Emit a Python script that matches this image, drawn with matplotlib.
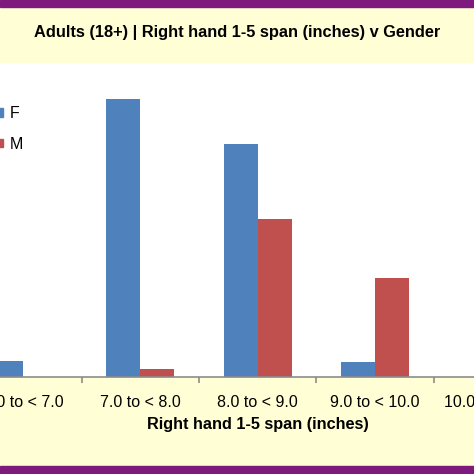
import numpy as np
import matplotlib.pyplot as plt
from matplotlib.patches import Rectangle, Patch

plt.rcParams['font.family'] = ['Liberation Sans', 'DejaVu Sans']

# span bins and share of each gender (%)
categories = ['6.0 to < 7.0', '7.0 to < 8.0', '8.0 to < 9.0', '9.0 to < 10.0', '10.0 to < 11.0']
female = [3.0, 51.3, 43.0, 2.8, 0.0]
male = [0.0, 1.5, 29.2, 18.3, 51.0]

BLUE = '#4F81BD'
RED = '#C0504D'
YELLOW = '#FFFED4'
PURPLE = '#7E1A7E'

W, H = 474, 474
fig = plt.figure(figsize=(W / 100, H / 100), dpi=100, facecolor=YELLOW)

# purple bands top and bottom
fig.add_artist(Rectangle((0, 1 - 7 / H), 1, 7 / H, transform=fig.transFigure,
                         color=PURPLE, zorder=0))
fig.add_artist(Rectangle((0, 0), 1, 8 / H, transform=fig.transFigure,
                         color=PURPLE, zorder=0))

# axes wider than the figure so the outer bins are cut off like the reference
step = 117.3
left_px = 23 - step / 2
ax = fig.add_axes([left_px / W, (H - 377) / H, 5 * step / W, 314 / H])
ax.set_facecolor('white')

x = np.arange(len(categories))
bw = 0.29
ax.bar(x - bw / 2, female, bw, color=BLUE, label='F')
ax.bar(x + bw / 2, male, bw, color=RED, label='M')

ax.set_xlim(-0.5, len(categories) - 0.5)
ax.set_ylim(0, 58)
ax.set_yticks([])
for s in ['top', 'right', 'left']:
    ax.spines[s].set_visible(False)
ax.spines['bottom'].set_color('#8C8C8C')
ax.spines['bottom'].set_linewidth(1.2)

ax.set_xticks(x)
ax.set_xticklabels(categories, fontsize=11.5)
ax.tick_params(axis='x', which='major', length=0, pad=13)
ax.set_xticks(np.arange(-0.5, len(categories)), minor=True)
ax.tick_params(axis='x', which='minor', length=4, color='#8C8C8C', width=1.2)

fig.text(257.5 / W, (H - 425) / H, 'Right hand 1-5 span (inches)', ha='center', va='center',
         fontsize=11.7, fontweight='bold')
fig.text(237 / W, (H - 32) / H, 'Adults (18+) | Right hand 1-5 span (inches) v Gender',
         ha='center', va='center', fontsize=11.8, fontweight='bold')

handles = [Patch(color=BLUE), Patch(color=RED)]
fig.legend(handles, ['F', 'M'], loc='upper left', bbox_to_anchor=(-4 / W, (H - 106) / H),
           frameon=False, fontsize=11.5, handlelength=0.45, handleheight=0.45,
           handletextpad=0.4, labelspacing=0.98, borderpad=0, borderaxespad=0)

fig.savefig('out.png', dpi=100, facecolor=YELLOW)
